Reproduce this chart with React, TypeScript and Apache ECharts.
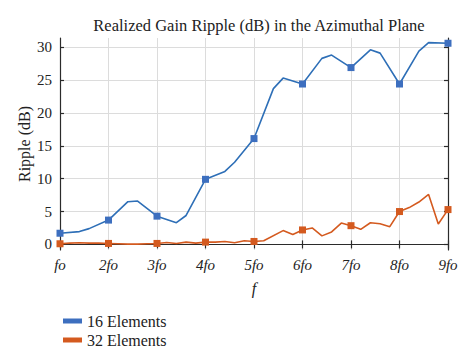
import React, { useEffect, useRef } from "react";
import * as echarts from "echarts";

const title = "Realized Gain Ripple (dB) in the Azimuthal Plane";
const seriesNames = ["16 Elements", "32 Elements"];
const xTickLabels = ["fo", "2fo", "3fo", "4fo", "5fo", "6fo", "7fo", "8fo", "9fo"];
const yTicks = [0, 5, 10, 15, 20, 25, 30];

// x in units of fo
const blueX = [1, 1.4, 1.6, 2, 2.4, 2.6, 3, 3.4, 3.6, 4, 4.4, 4.6, 5, 5.4, 5.6, 6, 6.4, 6.6, 7, 7.4, 7.6, 8, 8.4, 8.6, 9];
const blueY = [1.7, 1.95, 2.4, 3.7, 6.5, 6.6, 4.3, 3.3, 4.4, 9.9, 11.1, 12.5, 16.1, 23.7, 25.3, 24.4, 28.3, 28.8, 26.9, 29.6, 29.1, 24.4, 29.4, 30.7, 30.6];

const orangeX = [1, 1.2, 1.4, 1.6, 1.8, 2, 2.2, 2.4, 2.6, 2.8, 3, 3.2, 3.4, 3.6, 3.8, 4, 4.2, 4.4, 4.6, 4.8, 5, 5.2, 5.6, 5.8, 6, 6.2, 6.4, 6.6, 6.8, 7, 7.2, 7.4, 7.6, 7.8, 8, 8.2, 8.4, 8.6, 8.8, 9];
const orangeY = [0.1, 0.2, 0.25, 0.2, 0.2, 0.15, 0.1, 0.05, 0.05, 0.1, 0.15, 0.3, 0.15, 0.35, 0.2, 0.35, 0.35, 0.45, 0.25, 0.55, 0.45, 0.55, 2.1, 1.5, 2.2, 2.5, 1.3, 1.9, 3.25, 2.85, 2.3, 3.3, 3.15, 2.7, 5.0, 5.6, 6.45, 7.6, 3.1, 5.3];

const BLUE = "#2e6fb7";
const ORANGE = "#d45a1f";
const FONT = "Liberation Serif";

export default function App() {
  const ref = useRef<HTMLDivElement>(null);
  useEffect(() => {
    const chart = echarts.init(ref.current!, null, { renderer: "svg" });
    const mk = (xs: number[], ys: number[]) =>
      xs.map((x, i) => ({
        value: [x, ys[i]],
        symbolSize: Number.isInteger(x) ? 7 : 0,
      }));
    const axisLineStyle = { color: "#2b2b2b", width: 1.2 };
    chart.setOption({
      animation: false,
      backgroundColor: "#ffffff",
      textStyle: { fontFamily: FONT },
      title: {
        text: title,
        left: 254,
        textAlign: "center",
        top: 12,
        textStyle: { fontFamily: FONT, fontSize: 16.5, fontWeight: "normal", color: "#222" },
      },
      legend: {
        orient: "vertical",
        left: 58,
        top: 308,
        itemWidth: 19,
        itemHeight: 5,
        itemGap: 3,
        icon: "rect",
        data: seriesNames,
        textStyle: { fontFamily: FONT, fontSize: 16, color: "#222" },
      },
      grid: { left: 60, right: 26, top: 38, bottom: 114 },
      xAxis: [
        {
          type: "value",
          min: 1,
          max: 9,
          interval: 1,
          name: "f",
          nameLocation: "middle",
          nameGap: 30,
          nameMoveOverlap: false,
          nameTextStyle: { fontFamily: FONT, fontSize: 16, fontStyle: "italic", color: "#222" },
          axisLine: { lineStyle: axisLineStyle },
          axisTick: { inside: true, length: 4, lineStyle: axisLineStyle },
          axisLabel: {
            fontFamily: FONT,
            fontSize: 15,
            fontStyle: "italic",
            color: "#222",
            margin: 7,
            formatter: (v: number) => xTickLabels[Math.round(v) - 1] ?? "",
          },
          splitLine: { show: true, lineStyle: { color: "#dcdcdc", width: 1 } },
        },
        {
          type: "value",
          position: "top",
          min: 1,
          max: 9,
          interval: 1,
          axisLine: { lineStyle: axisLineStyle },
          axisTick: { inside: true, length: 4, lineStyle: axisLineStyle },
          axisLabel: { show: false },
          splitLine: { show: false },
        },
      ],
      yAxis: [
        {
          type: "value",
          min: -0.85,
          max: 31.4,
          name: "Ripple (dB)",
          nameLocation: "middle",
          nameGap: 28,
          nameMoveOverlap: false,
          nameTextStyle: { fontFamily: FONT, fontSize: 16, color: "#222" },
          axisLine: { show: true, lineStyle: axisLineStyle },
          axisTick: { show: true, inside: true, length: 4, lineStyle: axisLineStyle, customValues: yTicks },
          axisLabel: {
            fontFamily: FONT,
            fontSize: 15,
            color: "#222",
            margin: 8,
            customValues: yTicks,
          },
          splitLine: { show: true, lineStyle: { color: "#dcdcdc", width: 1 } },
        },
        {
          type: "value",
          position: "right",
          min: -0.85,
          max: 31.4,
          axisLine: { show: true, lineStyle: axisLineStyle },
          axisTick: { show: true, inside: true, length: 4, lineStyle: axisLineStyle, customValues: yTicks },
          axisLabel: { show: false, customValues: yTicks },
          splitLine: { show: false },
        },
      ],
      series: [
        {
          name: seriesNames[0],
          type: "line",
          data: mk(blueX, blueY),
          symbol: "rect",
          color: BLUE,
          itemStyle: { color: "#3d6fbf" },
          lineStyle: { color: BLUE, width: 1.6 },
        },
        {
          name: seriesNames[1],
          type: "line",
          data: mk(orangeX, orangeY),
          symbol: "rect",
          color: ORANGE,
          itemStyle: { color: ORANGE },
          lineStyle: { color: ORANGE, width: 1.6 },
        },
      ],
    });
    return () => chart.dispose();
  }, []);
  return <div ref={ref} style={{ width: 474, height: 364, position: "absolute", left: 0, top: 0 }} />;
}
